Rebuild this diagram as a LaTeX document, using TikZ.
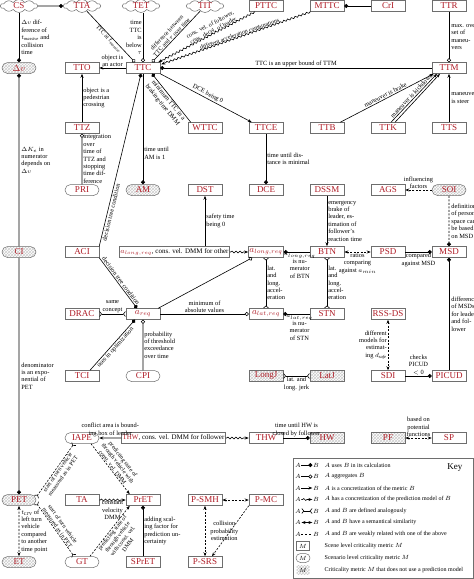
\documentclass[tikz,border=0pt]{standalone}
\usepackage{fontspec}
\setmainfont{Liberation Serif}
\usetikzlibrary{arrows.meta,shapes.symbols,shapes.misc,decorations.pathmorphing,patterns,calc}
\definecolor{nred}{RGB}{175,28,38}
\definecolor{bgray}{RGB}{110,110,110}
\newcommand{\nodefont}{\fontsize{9}{10}\selectfont}
\newcommand{\annfont}{\fontsize{6.4}{7.4}\selectfont}
\newcommand{\smallann}{\fontsize{5.9}{6.6}\selectfont}
\newcommand{\keyfont}{\fontsize{6}{7}\selectfont}
\tikzset{
  nbase/.style={draw=bgray, line width=0.5pt, text=nred, font=\nodefont, inner sep=1pt, minimum height=11pt},
  scene/.style={nbase, rectangle, minimum width=34pt, fill=white},
  scen/.style={nbase, rounded rectangle, minimum width=36pt, fill=white},
  hatched/.style={pattern=crosshatch, pattern color=gray!40},
  cld/.style={nbase, cloud, cloud puffs=10, cloud puff arc=110, aspect=3, minimum width=37pt, minimum height=13pt, inner sep=0pt, fill=white},
  ann/.style={font=\annfont, inner sep=1pt, text=black, align=center},
  sann/.style={font=\smallann, inner sep=0.5pt, text=black, align=center},
  con/.style={line width=0.6pt, draw=black},
  uses/.style={con, -{Circle[length=4pt]}},
  agg/.style={con, -{Circle[open, length=4pt]}},
  conc/.style={con, -{Stealth[length=4pt, width=3pt]}},
  pm/.style={con, decorate, decoration={snake, amplitude=0.9pt, segment length=4pt, post length=4pt, pre length=1pt}, -{Stealth[length=4pt, width=3pt]}},
  ana/.style={con, {Straight Barb[reversed, length=2pt, width=5pt]}-{Straight Barb[reversed, length=2pt, width=5pt]}},
  sim/.style={con, {Stealth[length=4pt, width=3pt]}-{Stealth[length=4pt, width=3pt]}},
  weak/.style={dash pattern=on 2pt off 1.5pt},
  keyt/.style={font=\keyfont, inner sep=0.5pt, text=black},
  keyl/.style={font=\keyfont, inner sep=0.5pt, text=black, anchor=west},
  keym/.style={nbase, font=\keyfont, text=black, minimum width=13pt, minimum height=9pt, inner sep=0.5pt},
}
\begin{document}
\begin{tikzpicture}[x=1pt,y=-1pt]
\useasboundingbox (0,0) rectangle (474,579);
% ---------- nodes
\node[cld] (CS) at (19,6) {CS};
\node[cld] (TTA) at (82,6) {TTA};
\node[cld] (TET) at (141,6) {TET};
\node[cld] (TIT) at (205,6) {TIT};
\node[scene] (PTTC) at (266,6) {PTTC};
\node[scene] (MTTC) at (327,6) {MTTC};
\node[scene] (CrI) at (388,6) {CrI};
\node[scene] (TTR) at (449,6) {TTR};
\node[scen,hatched] (Dv) at (19,68) {$\Delta v$};
\node[scene] (TTO) at (82,68) {TTO};
\node[scene] (TTC) at (143,68) {TTC};
\node[scene] (TTM) at (449,68) {TTM};
\node[scene] (TTZ) at (82,128) {TTZ};
\node[scene] (WTTC) at (205,128) {WTTC};
\node[scene] (TTCE) at (266,128) {TTCE};
\node[scene] (TTB) at (327,128) {TTB};
\node[scene] (TTK) at (388,128) {TTK};
\node[scene] (TTS) at (449,128) {TTS};
\node[scen] (PRI) at (82,190) {PRI};
\node[scen,hatched] (AM) at (143,190) {AM};
\node[scene] (DST) at (205,190) {DST};
\node[scene] (DCE) at (266,190) {DCE};
\node[scene] (DSSM) at (327,190) {DSSM};
\node[scene] (AGS) at (388,190) {AGS};
\node[scen,hatched] (SOI) at (449,190) {SOI};
\node[scen,hatched] (CI) at (19,252) {CI};
\node[scene] (ACI) at (82,252) {ACI};
\node[scene, minimum width=105pt, font=\fontsize{7}{8}\selectfont, text=black] (LB) at (174.5,252) {\textcolor{nred}{$a_{long,req}$}, cons. vel. DMM for other};
\node[scene] (along) at (266,252) {$a_{long,req}$};
\node[scene] (BTN) at (327,252) {BTN};
\node[scene] (PSD) at (388,252) {PSD};
\node[scene] (MSD) at (449,252) {MSD};
\node[scene] (DRAC) at (82,314) {DRAC};
\node[scene] (areq) at (143,314) {$a_{req}$};
\node[scene] (alat) at (266,314) {$a_{lat,req}$};
\node[scene] (STN) at (327,314) {STN};
\node[scene] (RSSDS) at (388,314) {RSS-DS};
\node[scene] (TCI) at (82,376) {TCI};
\node[scen] (CPI) at (143,376) {CPI};
\node[scene,hatched] (LongJ) at (266,376) {LongJ};
\node[scene,hatched] (LatJ) at (327,376) {LatJ};
\node[scene] (SDI) at (388,376) {SDI};
\node[scene] (PICUD) at (449,376) {PICUD};
\node[scen] (IAPE) at (82,438) {IAPE};
\node[scene, minimum width=103pt, font=\fontsize{7}{8}\selectfont, text=black] (TB) at (173.5,438) {\textcolor{nred}{THW}, cons. vel. DMM for follower};
\node[scene] (THW) at (266,438) {THW};
\node[scene,hatched] (HW) at (327,438) {HW};
\node[scene,hatched] (PF) at (388,438) {PF};
\node[scene] (SP) at (449,438) {SP};
\node[scen,hatched] (PET) at (19,500) {PET};
\node[scene] (TA) at (82,500) {TA};
\node[scene] (PrET) at (143,500) {PrET};
\node[scene] (PSMH) at (205,500) {P-SMH};
\node[scene] (PMC) at (266,500) {P-MC};
\node[scen,hatched] (ET) at (19,562) {ET};
\node[scen] (GT) at (82,562) {GT};
\node[scene] (SPrET) at (143,562) {SPrET};
\node[scene] (PSRS) at (205,562) {P-SRS};
% ---------- connectors, left column
\draw[uses] (CS) -- (TTA);
\draw[uses] (CS) -- (Dv) node[ann, midway, right, align=left, xshift=1pt] (l1) {$\Delta v$ dif-\\ference of\\$t_{\mathit{massive}}$ and\\collision\\time};
\draw[uses] (CI) -- (Dv) node[ann, midway, right, align=left, xshift=1pt] (l2) {$\Delta K_e$ in\\numerator\\depends on\\$\Delta v$};
\draw[uses] (CI) -- (PET) node[ann, midway, right, align=left, xshift=1pt] (l3) {denominator\\is an expo-\\nential of\\PET};
\draw[weak, sim] (PET) -- (ET) node[ann, midway, right, align=left, xshift=1pt] (l4) {$t_{\mathit{LTV}}$ of\\left turn\\vehicle\\compared\\to another\\time point};
% ---------- TTC cluster
\draw[agg] (TTA) -- ($(TTC.north)+(-8,0)$) node[sann, pos=0.5, sloped, below] (l5) {TTC at $t_{\mathit{massive}}$};
\draw[agg] (TTC.north |- TET.south) -- (TTC.north) node[ann, midway, left, align=right] (l6) {time\\TTC\\is\\below\\$\tau$};
\draw[agg] (TIT) -- ($(TTC.north)+(9,0)$) node[sann, pos=0.55, sloped, above] (l7) {difference between\\TTC and $\tau$ over time};
\draw[pm] (PTTC) -- ($(TTC.north east)+(-2,0)$);
\path (PTTC) -- ($(TTC.north east)+(-2,0)$) node[sann, pos=0.42, sloped, above] (l8) {cons. vel. of follower,\\cons. decel. of leader};
\draw[pm] (MTTC) -- ($(TTC.north east)+(1,2)$);
\path (MTTC) -- ($(TTC.north east)+(1,2)$) node[sann, pos=0.47, sloped, above] (l9) {different acceleration combinations};
\draw[uses] (CrI) -- (MTTC);
\draw[conc] (TTC) -- (TTO) node[ann, midway, above] (l10) {object is\\an actor};
\draw[conc] (TTZ) -- (TTO) node[ann, midway, right, align=left] (l11) {object is a\\pedestrian\\crossing};
\draw[agg] (PRI) -- (TTZ) node[ann, midway, right, align=left] (l12) {integration\\over\\time of\\TTZ and\\stopping\\time dif-\\ference};
\draw[uses] (TTM) -- (TTC) node[ann, midway, above] (l13) {TTC is an upper bound of TTM};
\draw[agg] (TTR) -- (TTM) node[ann, midway, right, align=left, xshift=1pt] (l14) {max. over\\set of\\maneu-\\vers};
\draw[conc] ($(TTB.north east)+(-4,0)$) -- ($(TTM.south west)+(2,0)$) node[ann, midway, sloped, above] (l15) {maneuver is brake};
\draw[conc] ($(TTK.north)+(3,0)$) -- ($(TTM.south)+(-12,0)$) node[ann, midway, sloped, above] (l16) {maneuver is kickdown};
\draw[conc] ($(TTK.north)+(7,0)$) -- ($(TTM.south)+(-9,0)$);
\draw[conc] (TTS) -- (TTM) node[ann, midway, right, align=left, xshift=1pt] (l17) {maneuver\\is steer};
\draw[uses] ($(WTTC.north west)+(3,0)$) -- ($(TTC.south)+(9,0)$) node[ann, midway, sloped, below] (l18) {minimum TTC in a\\braking-time DMM};
\draw[conc] (TTC.south east) -- ($(TTCE.north west)+(3,0)$) node[ann, midway, sloped, above] (l19) {DCE being 0};
\draw[uses] (TTCE) -- (DCE) node[ann, midway, right, align=left] (l20) {time until dis-\\tance is minimal};
\draw[uses] (TTC.south) -- (AM.north) node[ann, pos=0.72, right, align=left] (l21) {time until\\AM is 1};
\draw[uses] (ACI.north east) -- ($(TTC.south)+(-2,0)$) node[ann, pos=0.2, sloped, below] (l22) {decision tree condition};
% ---------- a_req cluster
\draw[uses] (ACI.south east) -- ($(areq.north)+(-6,0)$) node[ann, midway, sloped, above] (l23) {decision tree condition};
\draw[ana] (DRAC) -- (areq) node[ann, midway, above] (l24) {same\\concept};
\draw[uses] ($(TCI.north)+(8,0)$) -- ($(areq.south)+(-8,0)$) node[ann, midway, sloped, below] (l25) {uses in optimization};
\draw[agg] (CPI) -- (areq) node[ann, midway, right, align=left] (l26) {probability\\of threshold\\exceedance\\over time};
\draw[agg] (areq) -- (alat) node[ann, midway, above] (l27) {minimum of\\absolute values};
\draw[agg] ($(areq.north east)+(-2,0)$) -- ($(along.south west)+(4,0)$);
\draw[pm] (LB) -- (along);
\draw[conc] (DST.south |- LB.north) -- (DST.south) node[ann, midway, right, align=left] (l28) {safety time\\being 0};
\draw[uses] (BTN) -- (along) node[ann, midway, below, xshift=3pt] (l29) {$a_{long,req}$\\is nu-\\merator\\of BTN};
\draw[ana] (along) -- (alat) node[ann, midway, right, align=left] (l30) {lat.\\and\\long.\\accel-\\eration};
\draw[ana] (BTN) -- (STN) node[ann, midway, right, align=left] (l31) {lat.\\and\\long.\\accel-\\eration};
\draw[uses] (STN) -- (alat) node[ann, midway, below, xshift=3pt] (l32) {$a_{lat,req}$\\is nu-\\merator\\of STN};
\draw[conc] (DSSM) -- (BTN) node[ann, midway, right, align=left] (l33) {emergency\\brake of\\leader, es-\\timation of\\follower's\\reaction time};
\draw[weak, sim] (BTN) -- (PSD) node[ann, midway, below] (l34) {ratios\\comparing\\against $a_{min}$};
\draw[uses, line width=0.9pt] (PSD) -- (MSD) node[ann, midway, below] (l35) {compared\\against MSD};
\draw[weak, conc] (SOI) -- (AGS) node[ann, midway, above] (l36) {influencing\\factors};
\draw[weak, uses] (SOI) -- (MSD) node[ann, midway, right, align=left, xshift=1pt] (l37) {definition\\of personal\\space can\\be based\\on MSD};
\draw[uses] (PICUD) -- (MSD) node[ann, midway, right, align=left, xshift=1pt] (l38) {difference\\of MSDs\\for leader\\and fol-\\lower};
\draw[uses] (SDI) -- (PICUD) node[ann, midway, above] (l39) {checks\\PICUD\\$<$ 0};
\draw[weak, sim] (RSSDS) -- (SDI) node[ann, midway, left, align=right] (l40) {different\\models for\\estimat-\\ing $d_{\mathit{safe}}$};
\draw[ana] (LongJ) -- (LatJ) node[ann, midway, below] (l41) {lat. and\\long. jerk};
% ---------- lower part
\draw[pm] (TB) -- (THW);
\draw[uses] (THW) -- (HW) node[ann, midway, above] (l42) {time until HW is\\closed by follower};
\draw[conc] (TB) -- (IAPE) node[ann, midway, above] (l43) {conflict area is bound-\\ing box of leader};
\draw[weak, sim] (PF) -- (SP) node[ann, midway, above] (l44) {based on\\potential\\functions};
\draw[weak, ana] ($(IAPE.south)+(-8,0)$) -- ($(PET.east)+(0,-3)$) node[sann, midway, sloped, below] (l45) {start of turn vehicle\\measured as in PET};
\draw[weak, ana] ($(GT.north)+(-8,0)$) -- ($(PET.east)+(0,3)$) node[sann, midway, sloped, above] (l46) {start of turn vehicle\\measured as in PET};
\draw[weak, conc] ($(IAPE.south)+(9,0)$) -- ($(PrET.north west)+(4,0)$) node[sann, midway, sloped, above] (l47) {predicting state of\\through vehicle with\\const. vel. DMM};
\draw[weak, conc] ($(GT.north)+(8,0)$) -- ($(PrET.south west)+(4,0)$) node[sann, midway, sloped, below] (l48) {predicting state of\\through vehicle\\with const. vel.\\DMM};
\draw[pm] (TA) -- (PrET);
\path (TA) -- (PrET) node[ann, midway, below] (l49) {constant\\velocity\\DMM};
\draw[uses] (SPrET) -- (PrET) node[ann, midway, right, align=left] (l50) {adding scal-\\ing factor for\\prediction un-\\certainty};
\draw[weak, sim] (PSMH) -- (PMC);
\draw[weak, sim] (PSMH) -- (PSRS) node[ann, midway, right, xshift=4pt] (l51) {collision\\probability\\estimation};
\draw[weak, conc] (PMC.south west) -- ($(PSRS.north)+(7,0)$);
% ---------- key
\node[draw=bgray, line width=0.5pt, minimum width=180pt, minimum height=120pt, inner sep=0pt] (keybox) at (383,518) {};
\node[font=\fontsize{9}{10}\selectfont, text=black, anchor=north east] (keytitle) at (466,460) {Key};
\foreach \i/\y in {1/465, 2/476.5, 3/488, 4/499.5, 5/511, 6/522.5, 7/534} {
  \node[keyt] (ka\i) at (298,\y) {$A$};
  \node[keyt] (kb\i) at (316,\y) {$B$};
}
\draw[uses] (ka1) -- (kb1);
\draw[agg] (ka2) -- (kb2);
\draw[conc] (ka3) -- (kb3);
\draw[pm] (ka4) -- (kb4);
\draw[ana] (ka5) -- (kb5);
\draw[sim] (ka6) -- (kb6);
\draw[con, dash pattern=on 2pt off 2pt] (ka7) -- (kb7);
\node[keyl] (kt1) at (324,465) {$A$ uses $B$ in its calculation};
\node[keyl] (kt2) at (324,476.5) {$A$ aggregates $B$};
\node[keyl] (kt3) at (324,488) {$A$ is a concretization of the metric $B$};
\node[keyl] (kt4) at (324,499.5) {$A$ has a concretization of the prediction model of $B$};
\node[keyl] (kt5) at (324,511) {$A$ and $B$ are defined analogously};
\node[keyl] (kt6) at (324,522.5) {$A$ and $B$ have a semantical similarity};
\node[keyl] (kt7) at (324,534) {$A$ and $B$ are weakly related with one of the above};
\node[keym, rectangle] (km1) at (303,546) {$M$};
\node[keym, rounded rectangle, minimum width=15pt] (km2) at (303,558) {$M$};
\node[keym, rectangle, draw=none, hatched] (km3) at (303,570) {$M$};
\node[keyl] (kt8) at (324,546) {Scene level criticality metric $M$};
\node[keyl] (kt9) at (324,558) {Scenario level criticality metric $M$};
\node[keyl] (kt10) at (324,570) {Criticality metric $M$ that does not use a prediction model};
\end{tikzpicture}
\end{document}
